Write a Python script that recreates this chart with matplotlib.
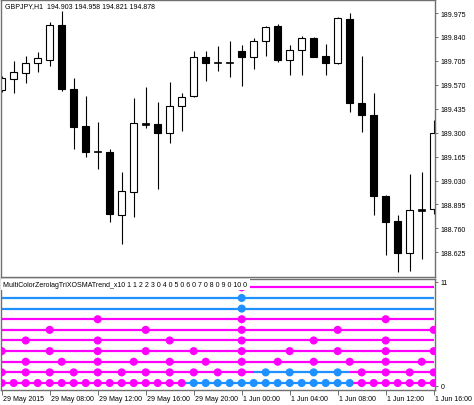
import matplotlib
matplotlib.use('Agg')
import matplotlib.pyplot as plt
from matplotlib.collections import LineCollection
from matplotlib.transforms import ScaledTranslation

plt.rcParams['font.family'] = ['Liberation Sans', 'DejaVu Sans']

symbol_title = "GBPJPY,H1  194.903 194.958 194.821 194.878"
indicator_title = "MultiColorZerolagTriXOSMATrend_x10 1 1 2 2 3 0 4 0 5 0 6 0 7 0 8 0 9 0 10 0"

opens = [189.540, 189.602, 189.636, 189.693, 189.709, 189.907, 189.546, 189.337, 189.195, 189.191,
         188.834, 188.968, 189.350, 189.348, 189.301, 189.451, 189.506, 189.726, 189.697, 189.697,
         189.762, 189.728, 189.815, 189.903, 189.709, 189.768, 189.832, 189.730, 189.691, 189.941,
         189.467, 189.397, 188.943, 188.802, 188.619, 188.864, 188.868]
highs = [189.619, 189.704, 189.732, 189.755, 189.924, 189.986, 189.608, 189.506, 189.359, 189.207,
         189.078, 189.495, 189.557, 189.472, 189.585, 189.523, 189.760, 189.760, 189.789, 189.817,
         189.794, 189.834, 189.903, 189.913, 189.796, 189.843, 189.841, 189.800, 189.951, 189.973,
         189.734, 189.521, 188.947, 188.834, 189.065, 189.081, 189.372]
lows = [189.529, 189.523, 189.580, 189.642, 189.676, 189.534, 189.207, 189.161, 189.094, 188.794,
        188.670, 188.822, 189.325, 188.981, 189.240, 189.310, 189.500, 189.591, 189.647, 189.613,
        189.561, 189.659, 189.734, 189.696, 189.625, 189.625, 189.726, 189.625, 189.689, 189.414,
        189.304, 188.834, 188.608, 188.513, 188.519, 188.585, 188.839]
closes = [189.608, 189.643, 189.693, 189.721, 189.907, 189.546, 189.331, 189.191, 189.193, 188.839,
          188.969, 189.353, 189.348, 189.301, 189.450, 189.502, 189.726, 189.693, 189.696, 189.696,
          189.728, 189.815, 189.898, 189.709, 189.768, 189.832, 189.728, 189.691, 189.945, 189.465,
          189.400, 188.943, 188.798, 188.619, 188.862, 188.865, 189.297]

price_ticks = [189.975, 189.840, 189.705, 189.570, 189.435, 189.300, 189.165, 189.030, 188.895, 188.760, 188.625]
time_tick_bars = [0, 4, 8, 12, 16, 20, 24, 28, 32, 36]
time_tick_labels = ["29 May 2015", "29 May 08:00", "29 May 12:00", "29 May 16:00", "29 May 20:00",
                    "1 Jun 00:00", "1 Jun 04:00", "1 Jun 08:00", "1 Jun 12:00", "1 Jun 16:00"]

# indicator rows (1 = H1 at bottom ... 10 = MN1 at top); M = magenta (down), B = blue (up)
row_levels = [1, 2, 3, 4, 5, 6, 7, 8, 9, 10]
row_colors = [
    "MMMMMMMMMMMMMMMMBBBBBBBBBBBBBBMMMMMMM",
    "MMMMMMMMMMMMMMMMMMMMMMBBBBBBBBMMMMMMM",
    "MMMMMMMMMMMMMMMMMMMMMMMMMMMMMMMMMMMMM",
    "MMMMMMMMMMMMMMMMMMMMMMMMMMMMMMMMMMMMM",
    "MMMMMMMMMMMMMMMMMMMMMMMMMMMMMMMMMMMMM",
    "MMMMMMMMMMMMMMMMMMMMMMMMMMMMMMMMMMMMM",
    "MMMMMMMMMMMMMMMMMMMMMMMMMMMMMMMMMMMMM",
    "BBBBBBBBBBBBBBBBBBBBBBBBBBBBBBBBBBBBB",
    "BBBBBBBBBBBBBBBBBBBBBBBBBBBBBBBBBBBBB",
    "MMMMMMMMMMMMMMMMMMMMMMMMMMMMMMMMMMMMM",
]
row_dots = [
    [0, 1, 2, 3, 4, 5, 6, 7, 8, 9, 10, 11, 12, 13, 14, 15, 16, 17, 18, 19, 20, 21, 22, 23, 24, 25, 26, 27, 28, 29, 30, 31, 32, 33, 34, 35, 36],
    [0, 2, 4, 6, 8, 10, 12, 14, 16, 18, 20, 22, 24, 26, 28, 30, 32, 34, 36],
    [2, 5, 8, 11, 14, 17, 20, 23, 26, 29, 32, 35],
    [0, 4, 8, 12, 16, 20, 24, 28, 32, 36],
    [2, 8, 14, 20, 26, 32],
    [4, 12, 20, 28, 36],
    [8, 20, 32],
    [20],
    [20],
    [20],
]
color_map = {"M": "#FF00FF", "B": "#1E90FF"}

W, H = 474, 406
fig = plt.figure(figsize=(W / 100, H / 100), dpi=100)
fig.patch.set_facecolor('white')


def rect(x0, y0, x1, y1):
    return [x0 / W, 1 - y1 / H, (x1 - x0) / W, (y1 - y0) / H]


ax = fig.add_axes(rect(0.5, 0.5, 435, 277.5))
ax2 = fig.add_axes(rect(0.5, 279.5, 435, 390.5), sharex=ax)

spine_col = '#707070'
for a in (ax, ax2):
    for s in a.spines.values():
        s.set_color(spine_col)
        s.set_linewidth(1.0)
    a.set_facecolor('white')

# candles
n = len(opens)
xs = list(range(n))
ax.vlines(xs, lows, highs, colors='black', linewidth=0.8, zorder=1)
body_w = 0.6
min_h = 0.009
for i in xs:
    o, c = opens[i], closes[i]
    lo, hi = min(o, c), max(o, c)
    h = hi - lo
    if h < min_h:
        mid = (hi + lo) / 2
        lo, h = mid - min_h / 2, min_h
        ax.bar(i, h, bottom=lo, width=body_w, color='black', edgecolor='black', linewidth=0.5, zorder=2)
    elif c > o:
        ax.bar(i, h, bottom=lo, width=body_w, color='white', edgecolor='black', linewidth=0.8, zorder=2)
    else:
        ax.bar(i, h, bottom=lo, width=body_w, color='black', edgecolor='black', linewidth=0.8, zorder=2)

ax.set_xlim((0.5 - 1.7) / 12, (435 - 1.7) / 12)
ax.set_ylim(189.975 - 277.5 / 177.3 + 14 / 177.3, 189.975 + 13.5 / 177.3)
ax.yaxis.tick_right()
ax.set_yticks(price_ticks)
ax.set_yticklabels([f"{p:.3f}" for p in price_ticks])
ax.tick_params(axis='y', direction='out', length=2.5, width=0.7, color=spine_col, pad=1.5,
               labelsize=5.0, labelcolor='black')
ax.tick_params(axis='x', bottom=False, labelbottom=False)

fig.text(5 / W, 1 - 6.5 / H, symbol_title, fontsize=5.0, ha='left', va='center', color='black')

# indicator
for lev, cols, dots in zip(row_levels, row_colors, row_dots):
    segs = [[(i - 1, lev), (i, lev)] for i in range(1, n)]
    seg_cols = [color_map[cols[i]] for i in range(1, n)]
    ax2.add_collection(LineCollection(segs, colors=seg_cols, linewidths=1.6, zorder=2, capstyle='butt'))
    ax2.scatter(dots, [lev] * len(dots), s=34, c=[color_map[cols[i]] for i in dots],
                edgecolors='none', zorder=3, clip_on=True)

ax2.set_ylim(1 - 6.5 / 10.63, 1 + (384 - 279.5) / 10.63)
ax2.yaxis.tick_right()
ax2.set_yticks([1 - 2.7 / 10.63, 1 + (384 - 283) / 10.63])
ax2.set_yticklabels(['0', '11'])
ax2.tick_params(axis='y', direction='out', length=2.5, width=0.7, color=spine_col, pad=1.5,
                labelsize=5.0, labelcolor='black')
ax2.set_xticks(time_tick_bars)
ax2.set_xticklabels(time_tick_labels, ha='left')
ax2.tick_params(axis='x', direction='out', length=3.8, width=0.7, color=spine_col, pad=0.5,
                labelsize=5.0, labelcolor='black')
offset = ScaledTranslation(1.5 / 100, 0, fig.dpi_scale_trans)
for lbl in ax2.get_xticklabels():
    lbl.set_transform(lbl.get_transform() + offset)

ax2.text(3 / 435.5, 1 - 6 / 111, indicator_title, transform=ax2.transAxes, fontsize=5.0,
         ha='left', va='center', color='black', zorder=10,
         bbox=dict(boxstyle='square,pad=0.3', facecolor='white', edgecolor='none'))

fig.savefig('out.png', dpi=100, facecolor='white')
